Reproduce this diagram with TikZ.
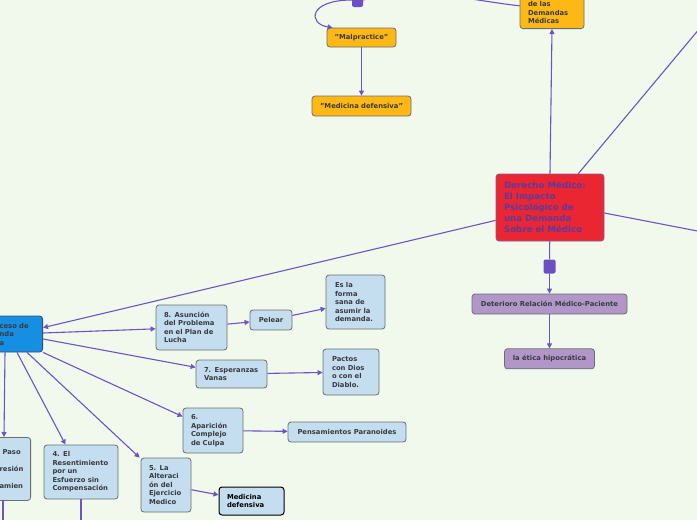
\documentclass[tikz,border=0pt]{standalone}
\usepackage{fontspec}
\setmainfont{DejaVu Sans}
\usepackage{tikz}
\usetikzlibrary{arrows.meta, positioning}
\definecolor{bgcolor}{RGB}{240,249,236}
\definecolor{linecolor}{RGB}{106,84,200}
\definecolor{hubcolor}{RGB}{106,80,196}
\definecolor{leafblue}{RGB}{196,222,240}
\definecolor{bordergray}{RGB}{105,112,112}
\definecolor{textgray}{RGB}{58,58,66}
\definecolor{orangefill}{RGB}{254,184,21}
\definecolor{purplefill}{RGB}{179,150,200}
\definecolor{redfill}{RGB}{233,38,50}
\definecolor{redborder}{RGB}{140,90,150}
\definecolor{redtext}{RGB}{92,58,160}
\definecolor{bluefill}{RGB}{22,142,226}
\definecolor{blueborder}{RGB}{50,80,110}
\hyphenpenalty=10000
\exhyphenpenalty=10000
\begin{document}
\begin{tikzpicture}[x=1pt, y=-1pt,
  conn/.style={draw=linecolor, line width=1.1pt},
  arr/.style={conn, -{Triangle[length=5pt, width=5pt]}},
  box/.style={draw=bordergray, line width=0.8pt, rounded corners=3pt, text=textgray,
    font=\fontsize{6.8}{8.5}\selectfont\bfseries, align=left, inner ysep=2pt},
  leaf/.style={box, fill=leafblue},
  orangebox/.style={box, fill=orangefill},
  purplebox/.style={box, fill=purplefill},
  hub/.style={fill=hubcolor, rounded corners=2pt, minimum width=12pt, minimum height=14pt, inner sep=0pt}]

    \fill[bgcolor] (0,0) rectangle (697,520);%draws background
    \useasboundingbox (0,0) rectangle (697,520);

    %creates the central topic and the top branch
    \node (red) [box, fill=redfill, draw=redborder, text=redtext, font=\fontsize{8.7}{11}\selectfont\bfseries,
    text width=92pt, inner xsep=8pt, minimum height=67pt] at (550,207.5) {Derecho Médico:\\El Impacto\\Psicológico de\\una Demanda\\Sobre el Médico};%draws red topic
    \node (orange) [orangebox, text width=48pt, inner xsep=8pt, inner ysep=5pt, anchor=south] at (552,29) {\mbox{}\\de las\\Demandas\\Médicas};%draws top box
    \node (hubTop) [hub, minimum width=11pt] at (357.5,0) {};%draws top hub
    \node (malpractice) [orangebox, minimum width=69pt, minimum height=19pt, inner ysep=0pt] at (361.5,37.5) {"Malpractice"};
    \node (meddef) [orangebox, minimum width=99pt, minimum height=20pt, inner ysep=0pt] at (361.5,106) {"Medicina defensiva"};

    %creates the lower branch
    \node (hubMid) [hub] at (549.5,266.5) {};%draws middle hub
    \node (deterioro) [purplebox, minimum width=155pt, minimum height=20pt, inner ysep=0pt] at (549.5,304) {Deterioro Relación Médico-Paciente};
    \node (etica) [purplebox, minimum width=90pt, minimum height=20pt, inner ysep=0pt, below=34pt of deterioro] {la ética hipocrática};

    %creates the blue topic and its steps
    \node (proceso) [box, fill=bluefill, draw=blueborder, text width=33pt, inner xsep=10pt, minimum height=36pt,
    anchor=east] at (43,334) {ceso de\\nda\\a};%draws blue topic
    \node (asuncion) [leaf, text width=55pt, inner xsep=8pt, minimum height=45pt] at (191.5,327.5) {8. Asunción\\del Problema\\en el Plan de\\Lucha};
    \node (pelear) [leaf, minimum width=42pt, minimum height=20pt, inner ysep=0pt] at (271,320) {Pelear};
    \node (sana) [leaf, text width=41pt, inner xsep=9pt, minimum height=54pt] at (355.5,302) {Es la\\forma\\sana de\\asumir la\\demanda.};
    \node (esperanzas) [leaf, text width=55pt, inner xsep=8pt, minimum height=28pt] at (231.5,374) {7. Esperanzas\\Vanas};
    \node (pactos) [leaf, text width=38pt, inner xsep=9pt, minimum height=46pt] at (351,372) {Pactos\\con Dios\\o con el\\Diablo.};
    \node (aparicion) [leaf, text width=44pt, inner xsep=8pt, minimum height=45pt] at (213,430.5) {6.\\Aparición\\Complejo\\de Culpa};
    \node (paranoides) [leaf, minimum width=118pt, minimum height=20pt, inner ysep=0pt] at (347,432) {Pensamientos Paranoides};
    \node (alteracion) [leaf, text width=34pt, inner xsep=8pt, minimum height=54pt] at (166,485) {5. La\\Alteraci\\ón del\\Ejercicio\\Medico};
    \node (medDefensiva) [leaf, draw=black, line width=1pt, text=black, text width=49pt, inner xsep=8pt,
    minimum height=28pt] at (251.5,501) {Medicina\\defensiva};
    \node (resentimiento) [leaf, text width=57pt, inner xsep=8.5pt, minimum height=54pt] at (81,472) {4. El\\Resentimiento\\por un\\Esfuerzo sin\\Compensación};
    \node (paso) [leaf, text width=22pt, inner xsep=9pt, minimum height=63pt, anchor=north east] at (31,437) {\hspace*{3pt}Paso\\[8.5pt]resión\\[8.5pt]amien};

    %free ends of lines leaving the picture
    \coordinate (offNE) at (700,28);
    \coordinate (offE) at (700,231.5);
    \coordinate (offRes) at (81,525);
    \coordinate (offPaso) at (3,525);

    %draws connectors of the top branch
    \draw[arr] (red.north) -- (orange.south);
    \draw[conn] ([yshift=5pt]orange.west) .. controls +(-40,-4) and +(50,-15) .. (hubTop.east);
    \draw[arr] (hubTop.west) .. controls (308,0) and (308,24) .. ([xshift=6pt]malpractice.north west);
    \draw[arr] (malpractice) -- (meddef);
    \draw[conn] (red) -- (offNE);
    \draw[conn] ([yshift=-5.5pt]red.east) -- (offE);

    %draws connectors of the lower branch
    \draw[conn] (red) -- (hubMid);
    \draw[arr] (hubMid) -- (deterioro);
    \draw[arr] (deterioro) -- (etica);

    %draws connectors of the blue topic
    \draw[arr] (red) -- (proceso);
    \draw[arr] (proceso) -- (asuncion);
    \draw[arr] (asuncion) -- (pelear);
    \draw[arr] (pelear) -- (sana);
    \draw[arr] (proceso) -- (esperanzas);
    \draw[arr] (esperanzas) -- (pactos);
    \draw[arr] (proceso.south east) -- (aparicion);
    \draw[arr] (aparicion) -- (paranoides);
    \draw[arr] ([xshift=-16pt]proceso.south east) -- ([xshift=-1pt]alteracion.north west);
    \draw[arr] (alteracion) -- (medDefensiva);
    \draw[arr] ([xshift=-26pt]proceso.south east) -- ([xshift=-15.5pt]resentimiento.north);
    \draw[arr] ([xshift=-38pt]proceso.south east) -- ([xshift=-27pt]paso.north east);
    \draw[conn] (resentimiento) -- (offRes);
    \draw[conn] (offPaso |- paso.south) -- (offPaso);
  \end{tikzpicture}
\end{document}
